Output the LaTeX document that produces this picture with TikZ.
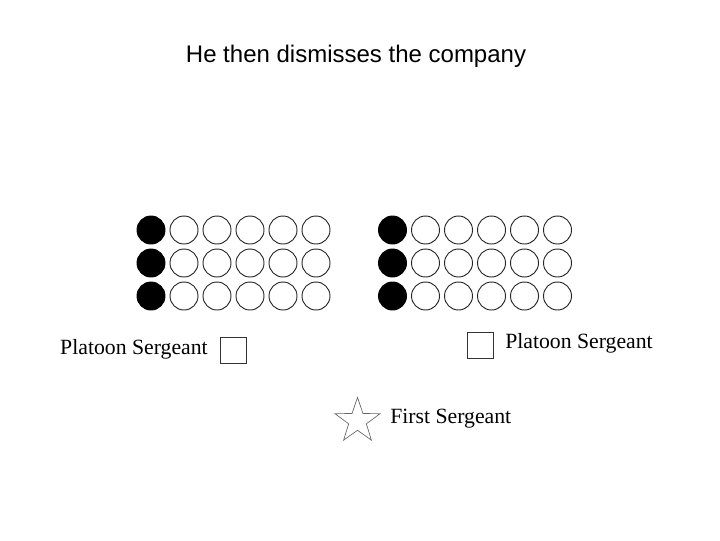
\documentclass[tikz,border=0pt]{standalone}
\usepackage{fontspec}
\setmainfont{Liberation Serif}
\newfontfamily\arialfont{Liberation Sans}
\usetikzlibrary{shapes.geometric}
\tikzset{
  x=0.75pt, y=-0.75pt,
  soldier/.style={circle, draw=black!85, line width=0.7pt, minimum size=21pt, inner sep=0pt},
  leader/.style={soldier, fill=black, draw=black},
  sgtbox/.style={draw=black!80, line width=0.6pt, minimum size=19.5pt, inner sep=0pt},
  lbl/.style={font=\fontsize{16.3}{18}\selectfont, inner sep=0pt},
  firststar/.style={star, star points=5, star point ratio=2.55, draw=black!60, line width=0.5pt, minimum size=35.5pt, inner sep=0pt}
}
\begin{document}
\begin{tikzpicture}
\useasboundingbox (0,0) rectangle (720,540);
\node[font=\arialfont\fontsize{18}{20}\selectfont, inner sep=0pt] (title) at (356,56) {He then dismisses the company};
% left platoon
\foreach \r/\y in {1/230,2/263,3/296}{
  \node[leader] (L\r c1) at (151,\y) {};
  \foreach \c/\x in {2/184,3/217,4/250,5/283,6/316}{
    \node[soldier] (L\r c\c) at (\x,\y) {};
  }
}
% right platoon
\foreach \r/\y in {1/230,2/263,3/296}{
  \node[leader] (R\r c1) at (392.5,\y) {};
  \foreach \c/\x in {2/425.5,3/458.5,4/491.5,5/524.5,6/557.5}{
    \node[soldier] (R\r c\c) at (\x,\y) {};
  }
}
\node[sgtbox] (lbox) at (233.5,350.5) {};
\node[lbl, anchor=east] (llabel) at (208,349) {Platoon Sergeant};
\node[sgtbox] (rbox) at (480,345) {};
\node[lbl, anchor=west] (rlabel) at (505,343) {Platoon Sergeant};
\node[firststar] (star) at (357.5,421) {};
\node[lbl, anchor=west] (slabel) at (390,419) {First Sergeant};
\end{tikzpicture}
\end{document}
